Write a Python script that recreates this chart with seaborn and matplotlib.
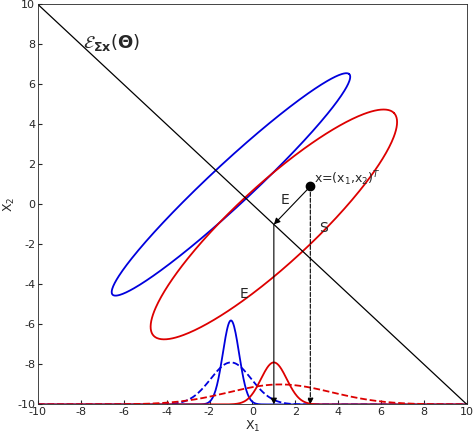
import numpy as np
import matplotlib
matplotlib.use("Agg")
import matplotlib.pyplot as plt
import seaborn as sns
import pandas as pd

# ellipse parameters: center x, center y, semi-major, semi-minor, angle(deg)
ell_names = ["blue", "red"]
ell_cx = [-1.0, 1.0]
ell_cy = [1.0, -1.0]
ell_a = [7.8, 7.9]
ell_b = [1.0, 1.9]
ell_ang = [45.0, 45.0]

# gaussian bumps on the x-axis: mean, sd, peak height above -10, color, style
g_mu = [-1.0, -1.0, 1.0, 1.3]
g_sd = [0.38, 0.95, 0.6, 2.4]
g_h = [4.2, 2.1, 2.1, 1.0]
g_col = ["#0000dd", "#0000dd", "#dd0000", "#dd0000"]
g_ls = ["-", "--", "-", "--"]

pt = (2.7, 0.9)
proj = (1.0, -1.0)
ticks = list(range(-10, 11, 2))

sns.set_style("ticks")
plt.rcParams["axes.unicode_minus"] = False
fig, ax = plt.subplots(figsize=(4.74, 4.42), dpi=100)
fig.subplots_adjust(left=0.08, right=0.985, bottom=0.085, top=0.99)

t = np.linspace(0, 2 * np.pi, 400)
for cx, cy, a, b, ang, c in zip(ell_cx, ell_cy, ell_a, ell_b, ell_ang, ["#0000dd", "#dd0000"]):
    th = np.deg2rad(ang)
    x = cx + a * np.cos(t) * np.cos(th) - b * np.sin(t) * np.sin(th)
    y = cy + a * np.cos(t) * np.sin(th) + b * np.sin(t) * np.cos(th)
    sns.lineplot(x=x, y=y, sort=False, color=c, lw=1.3, ax=ax)

xs = np.linspace(-10, 10, 600)
for mu, sd, h, c, ls in zip(g_mu, g_sd, g_h, g_col, g_ls):
    y = -10 + h * np.exp(-0.5 * ((xs - mu) / sd) ** 2)
    sns.lineplot(x=xs, y=y, color=c, ls=ls, lw=1.3, ax=ax)

sns.lineplot(x=[-10, 10], y=[10, -10], color="black", lw=0.9, ax=ax)

ax.plot(*pt, "o", color="black", ms=6)
arr = dict(arrowstyle="-|>", color="black", lw=0.8, mutation_scale=9, shrinkA=0, shrinkB=0)
ax.annotate("", xy=proj, xytext=pt, arrowprops=arr)
ax.annotate("", xy=(proj[0], -10), xytext=proj, arrowprops=arr)
ax.annotate("", xy=(pt[0], -10), xytext=pt, arrowprops=dict(arr, ls="--"))

ax.text(pt[0] + 0.15, pt[1] + 0.15, r"x=(x$_1$,x$_2$)$^T$", fontsize=9)
ax.text(1.5, 0.2, "E", fontsize=10, ha="center", va="center")
ax.text(-0.4, -4.5, "E", fontsize=10, ha="center", va="center")
ax.text(3.3, -1.2, "S", fontsize=10, ha="center", va="center")
ax.text(-7.9, 7.8, r"$\mathcal{E}_{\mathbf{\Sigma x}}(\mathbf{\Theta})$", fontsize=13)

ax.set_xlim(-10, 10)
ax.set_ylim(-10, 10)
ax.set_xticks(ticks)
ax.set_yticks(ticks)
ax.tick_params(labelsize=8, direction="in", length=3, pad=2)
ax.set_xlabel(r"X$_1$", fontsize=9, labelpad=1)
ax.set_ylabel(r"X$_2$", fontsize=9, labelpad=0)
for s in ax.spines.values():
    s.set_visible(True)
    s.set_linewidth(0.6)
fig.savefig("out.png")
